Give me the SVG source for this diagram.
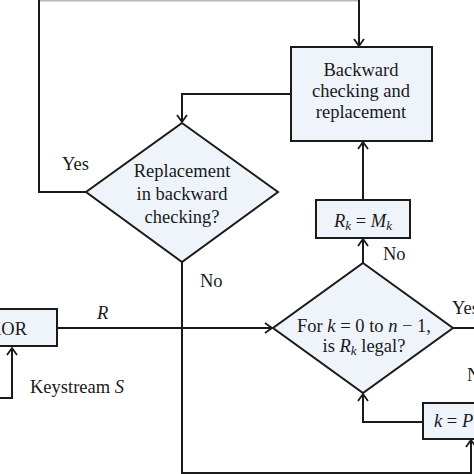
<svg xmlns="http://www.w3.org/2000/svg" width="474" height="474" viewBox="0 0 474 474">
<style>
.shape{fill:#eef4fa;stroke:#1a1a1a;stroke-width:2}
.conn{fill:none;stroke:#1a1a1a;stroke-width:2}
text{font-family:"Liberation Serif","Times New Roman",serif;font-size:18.5px;fill:#1a1a1a}
.c{text-anchor:middle}
.i{font-style:italic}
.s{font-size:13px;font-style:italic}
</style>
<defs>
<marker id="arr" viewBox="-10 -6 12 12" markerWidth="12" markerHeight="12" refX="0" refY="0" orient="auto" markerUnits="userSpaceOnUse">
<path d="M-7,-5 L0,0 L-7,5" fill="none" stroke="#1a1a1a" stroke-width="1.8"/>
</marker>
</defs>
<rect width="474" height="474" fill="#fff"/>
<g id="connectors">
<line x1="39" y1="0.5" x2="359" y2="0.5" stroke="#b8b8b8" stroke-width="2"/>
<polyline class="conn" points="86,192 39,192 39,0"/>
<polyline class="conn" points="359,0 359,46" marker-end="url(#arr)"/>
<polyline class="conn" points="291,94 182,94 182,122" marker-end="url(#arr)"/>
<polyline class="conn" points="182,262 182,473 471,473 471,440" marker-end="url(#arr)"/>
<polyline class="conn" points="57,328 272,328" marker-end="url(#arr)"/>
<polyline class="conn" points="0,398 12,398 12,348" marker-end="url(#arr)"/>
<polyline class="conn" points="363,263 363,239" marker-end="url(#arr)"/>
<polyline class="conn" points="363,200 363,142" marker-end="url(#arr)"/>
<polyline class="conn" points="423,422 363,422 363,394" marker-end="url(#arr)"/>
<polyline class="conn" points="453,328 474,328"/>
</g>
<g id="backward">
<rect class="shape" x="291" y="47" width="141" height="94"/>
<text class="c" x="361" y="76">Backward</text>
<text class="c" x="361" y="97">checking and</text>
<text class="c" x="361" y="118">replacement</text>
</g>
<g id="decision1">
<polygon class="shape" points="182,123 278,192 182,262 86,192"/>
<text class="c" x="182" y="177">Replacement</text>
<text class="c" x="182" y="200">in backward</text>
<text class="c" x="182" y="223">checking?</text>
</g>
<g id="rk-mk">
<rect class="shape" x="316" y="200" width="94" height="38"/>
<text class="c" x="363" y="227"><tspan class="i">R</tspan><tspan class="s" dy="3">k</tspan><tspan dy="-3"> = </tspan><tspan class="i">M</tspan><tspan class="s" dy="3">k</tspan></text>
</g>
<g id="decision2">
<polygon class="shape" points="363,263 453,328 363,393 273,328"/>
<text class="c" x="364" y="332">For <tspan class="i">k</tspan> = 0 to <tspan class="i">n</tspan> − 1,</text>
<text class="c" x="364" y="352">is <tspan class="i">R</tspan><tspan class="s" dy="3">k</tspan><tspan dy="-3"> legal?</tspan></text>
</g>
<g id="xor">
<rect class="shape" x="-10" y="309" width="67" height="37"/>
<text x="-12" y="335">XOR</text>
</g>
<g id="k-box">
<rect class="shape" x="423" y="403" width="60" height="36"/>
<text x="434" y="427"><tspan class="i">k</tspan> = <tspan class="i">P</tspan></text>
</g>
<g id="labels">
<text x="62" y="170">Yes</text>
<text x="200" y="287">No</text>
<text x="383" y="260">No</text>
<text x="97" y="319" class="i">R</text>
<text x="30" y="393">Keystream <tspan class="i">S</tspan></text>
<text x="452" y="314">Yes</text>
<text x="467" y="381">No</text>
</g>
</svg>
